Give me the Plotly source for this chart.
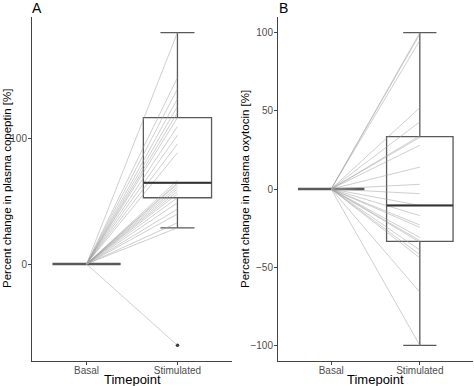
import numpy as np
import plotly.graph_objects as go

timepoints = ["Basal", "Stimulated"]

# Panel A: percent change in plasma copeptin at stimulation (basal = 0)
copeptin_stimulated = [-65, 29, 33, 40, 44, 49, 53, 56, 58, 60, 62, 64, 65, 67,
                       89, 96, 103, 110, 117, 121, 126, 132, 140, 149, 185]
# Panel B: percent change in plasma oxytocin at stimulation (basal = 0)
oxytocin_stimulated = [-100, -66, -44, -42, -39, -34, -33, -31, -24.5, -23, -17,
                       -10.5, -3, 3, 14, 28, 33, 34, 43, 52, 95, 99, 100]

ytitle_a = "Percent change in plasma copeptin [%]"
ytitle_b = "Percent change in plasma oxytocin [%]"
yticks_a = [0, 100]
yticks_b = [-100, -50, 0, 50, 100]

W, H = 474, 386
FONT = "Liberation Sans, Arial, sans-serif"
LINE_C = "rgba(160,160,160,0.5)"
BOX_C = "#5a5a5a"

fig = go.Figure()

def add_panel(vals, xa, ya):
    xs = [1, 2]
    for v in vals:
        fig.add_trace(go.Scatter(x=xs, y=[0, v], mode="lines", xaxis=xa, yaxis=ya,
                                 line=dict(color=LINE_C, width=1), hoverinfo="skip",
                                 showlegend=False))
    basal = [0] * len(vals)
    fig.add_trace(go.Box(x=[1] * len(vals), y=basal, xaxis=xa, yaxis=ya, width=0.75,
                         quartilemethod="inclusive", boxpoints=False,
                         fillcolor="rgba(0,0,0,0)", line=dict(color=BOX_C, width=2.5),
                         showlegend=False))
    fig.add_trace(go.Box(x=[2] * len(vals), y=vals, xaxis=xa, yaxis=ya, width=0.75,
                         quartilemethod="inclusive", boxpoints="outliers",
                         marker=dict(color="#333333", size=3.5),
                         fillcolor="rgba(0,0,0,0)", line=dict(color=BOX_C, width=1.3),
                         showlegend=False))
    med = float(np.median(vals))
    fig.add_trace(go.Scatter(x=[2 - 0.375, 2 + 0.375], y=[med, med], mode="lines",
                             xaxis=xa, yaxis=ya, line=dict(color="#333333", width=2),
                             hoverinfo="skip", showlegend=False))

add_panel(copeptin_stimulated, "x", "y")
add_panel(oxytocin_stimulated, "x2", "y2")

ydom = [(H - 361) / H, (H - 17) / H]
axis_common = dict(showgrid=False, zeroline=False, showline=True, linecolor="#444444",
                   linewidth=1, ticks="outside", ticklen=3, tickcolor="#444444",
                   tickfont=dict(family=FONT, size=10, color="#4d4d4d"))

def yrange(vals):
    lo, hi = min(vals), max(vals)
    pad = (hi - lo) * 0.05
    return [lo - pad, hi + pad]

fig.update_layout(
    width=W, height=H, margin=dict(l=0, r=0, t=0, b=0),
    paper_bgcolor="white", plot_bgcolor="white",
    font=dict(family=FONT, color="#000000"),
    xaxis=dict(domain=[32 / W, 232 / W], range=[0.4, 2.6], tickvals=[1, 2],
               ticktext=timepoints, ticklabelstandoff=-3, **axis_common),
    xaxis2=dict(domain=[278 / W, 473 / W], range=[0.4, 2.6], tickvals=[1, 2],
                ticktext=timepoints, anchor="y2", ticklabelstandoff=-3, **axis_common),
    yaxis=dict(domain=ydom, range=yrange(copeptin_stimulated), tickvals=yticks_a,
               anchor="x", ticklabelstandoff=-1, **axis_common),
    yaxis2=dict(domain=ydom, range=yrange(oxytocin_stimulated), tickvals=yticks_b,
                anchor="x2", ticklabelstandoff=-1, **axis_common),
)

ann = []
ann.append(dict(text=ytitle_a, x=7 / W, y=(H - 189) / H, textangle=-90,
                font=dict(family=FONT, size=11.5, color="#000")))
ann.append(dict(text=ytitle_b, x=245 / W, y=(H - 189) / H, textangle=-90,
                font=dict(family=FONT, size=11.5, color="#000")))
ann.append(dict(text="Timepoint", x=132 / W, y=(H - 379) / H,
                font=dict(family=FONT, size=13, color="#000")))
ann.append(dict(text="Timepoint", x=375.5 / W, y=(H - 379) / H,
                font=dict(family=FONT, size=13, color="#000")))
ann.append(dict(text="A", x=37 / W, y=(H - 8) / H,
                font=dict(family=FONT, size=14, color="#000")))
ann.append(dict(text="B", x=283 / W, y=(H - 8) / H,
                font=dict(family=FONT, size=14, color="#000")))
for a in ann:
    a.update(xref="paper", yref="paper", showarrow=False, xanchor="center",
             yanchor="middle")
fig.update_layout(annotations=ann)

fig.write_html("out.html", config={"displayModeBar": False},
               post_script="document.body.style.margin='0';")
